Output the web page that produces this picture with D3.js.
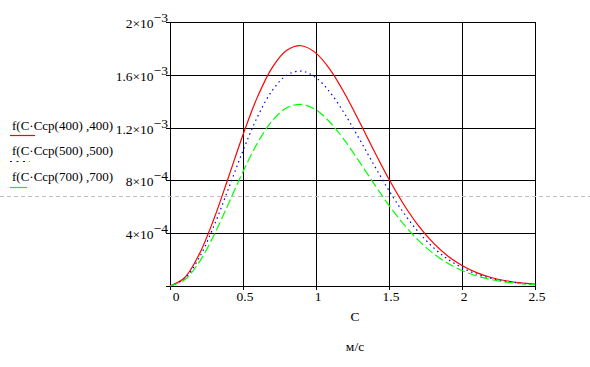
<!DOCTYPE html>
<html><head><meta charset="utf-8">
<script src="https://cdn.jsdelivr.net/npm/d3@7"></script>
<style>
html,body{margin:0;padding:0;background:#fff;}
svg{display:block;}
</style></head>
<body>
<svg id="chart" width="590" height="367"></svg>
<script>
// Reduced speed C (x axis)
const C = [0,0.1,0.2,0.3,0.4,0.5,0.6,0.7,0.8,0.9,1.0,1.1,1.2,1.3,1.4,1.5,1.6,1.7,1.8,1.9,2.0,2.1,2.2,2.3,2.4,2.5];
// f values, in units of 10^-3
const f400 = [0,0.0622,0.2396,0.5058,0.8225,1.1461,1.4347,1.6549,1.7857,1.8201,1.7642,1.6338,1.4508,1.2385,1.0185,0.8082,0.6197,0.4596,0.3300,0.2295,0.1548,0.1013,0.0643,0.0396,0.0237,0.0138];
const f500 = [0,0.0557,0.2143,0.4525,0.7358,1.0252,1.2834,1.4804,1.5974,1.6282,1.5782,1.4616,1.2979,1.1079,0.9111,0.7230,0.5543,0.4111,0.2952,0.2053,0.1385,0.0906,0.0575,0.0354,0.0212,0.0124];
const f700 = [0,0.0470,0.1811,0.3824,0.6218,0.8664,1.0845,1.2510,1.3499,1.3759,1.3337,1.2351,1.0968,0.9363,0.7700,0.6110,0.4685,0.3474,0.2494,0.1735,0.1170,0.0766,0.0486,0.0299,0.0179,0.0104];
const seriesNames = ["f(C·Ccp(400) ,400)","f(C·Ccp(500) ,500)","f(C·Ccp(700) ,700)"];
const xTicks = [0,0.5,1,1.5,2,2.5];
const xTickLabels = ["0","0.5","1","1.5","2","2.5"];
const yTicks = [0,0.4,0.8,1.2,1.6,2.0];
const yTickMant = ["","4","8","1.2","1.6","2"];
const yTickExp = ["","−4","−4","−3","−3","−3"];
const xLabel = "C";
const xUnit = "м/с";

const FONT = "Liberation Serif, DejaVu Serif, serif";
const svg = d3.select("#chart");
const L = 170, R = 535, T = 22, B = 286;
const x = d3.scaleLinear().domain([0,2.5]).range([L,R]);
const y = d3.scaleLinear().domain([0,2]).range([B,T]);

// grid
const grid = svg.append("g");
grid.append("g").attr("transform",`translate(0,${B})`)
  .call(d3.axisBottom(x).tickValues(xTicks).tickSize(-(B-T)).tickFormat(""))
  .call(g=>g.select(".domain").remove())
  .selectAll("line").attr("stroke","#000").attr("shape-rendering","crispEdges");
grid.append("g").attr("transform",`translate(${L},0)`)
  .call(d3.axisLeft(y).tickValues(yTicks).tickSize(-(R-L)).tickFormat(""))
  .call(g=>g.select(".domain").remove())
  .selectAll("line").attr("stroke","#000").attr("shape-rendering","crispEdges");
// outward ticks
svg.append("g").attr("transform",`translate(0,${B})`)
  .call(d3.axisBottom(x).tickValues(xTicks).tickSizeInner(4).tickSizeOuter(0).tickFormat(""))
  .call(g=>g.select(".domain").attr("stroke","#000"))
  .selectAll("line").attr("stroke","#000").attr("shape-rendering","crispEdges");
svg.append("g").attr("transform",`translate(${L},0)`)
  .call(d3.axisLeft(y).tickValues(yTicks).tickSizeInner(4).tickSizeOuter(0).tickFormat(""))
  .call(g=>g.select(".domain").attr("stroke","#000"))
  .selectAll("line").attr("stroke","#000").attr("shape-rendering","crispEdges");
svg.selectAll(".domain").attr("shape-rendering","crispEdges");

function txt(xp,yp,anchor,size){
  return svg.append("text").attr("x",xp).attr("y",yp).attr("text-anchor",anchor)
    .attr("font-family",FONT).attr("font-size",size||13).attr("fill","#000");
}
// y labels
yTicks.forEach((v,i)=>{
  if(!yTickMant[i]) return;
  const t = txt(168,y(v)+6,"end",13.5);
  t.append("tspan").text(yTickMant[i]+"×10");
  t.append("tspan").attr("dy",-6).text(yTickExp[i]);
});
// x labels
xTicks.forEach((v,i)=>{
  txt(x(v)+(i===0?6:2),301,"middle",13.5).text(xTickLabels[i]);
});
txt(355,321,"middle",13.5).text(xLabel);
txt(355,351,"middle",13.5).text(xUnit);

// page-break dashed line
svg.append("line").attr("x1",0).attr("x2",590).attr("y1",196.5).attr("y2",196.5)
  .attr("stroke","#c0c0c0").attr("stroke-dasharray","4,3");

// curves
const styles = [
  {data:f400,color:"#ff0000",dash:null},
  {data:f500,color:"#0000ff",dash:"1.5,3.5"},
  {data:f700,color:"#00ff00",dash:"9,3.5"}
];
const line = d3.line().x(d=>x(d[0])).y(d=>y(d[1])).curve(d3.curveCatmullRom);
styles.forEach(s=>{
  svg.append("path").datum(C.map((c,i)=>[c,s.data[i]]))
    .attr("d",line).attr("fill","none").attr("stroke",s.color)
    .attr("stroke-width",1.2).attr("stroke-dasharray",s.dash);
});

// legend
const legY = [130,155,181];
const legLineY = [135.5,161.5,187.5];
const legLen = [25,20,17];
seriesNames.forEach((n,i)=>{
  txt(12,legY[i],"start",13).text(n);
  svg.append("line").attr("x1",10).attr("x2",10+legLen[i])
    .attr("y1",legLineY[i]).attr("y2",legLineY[i])
    .attr("stroke",styles[i].color).attr("stroke-width",1.2)
    .attr("stroke-dasharray",i===1?"2,4.5":null);
});
</script>
</body></html>
